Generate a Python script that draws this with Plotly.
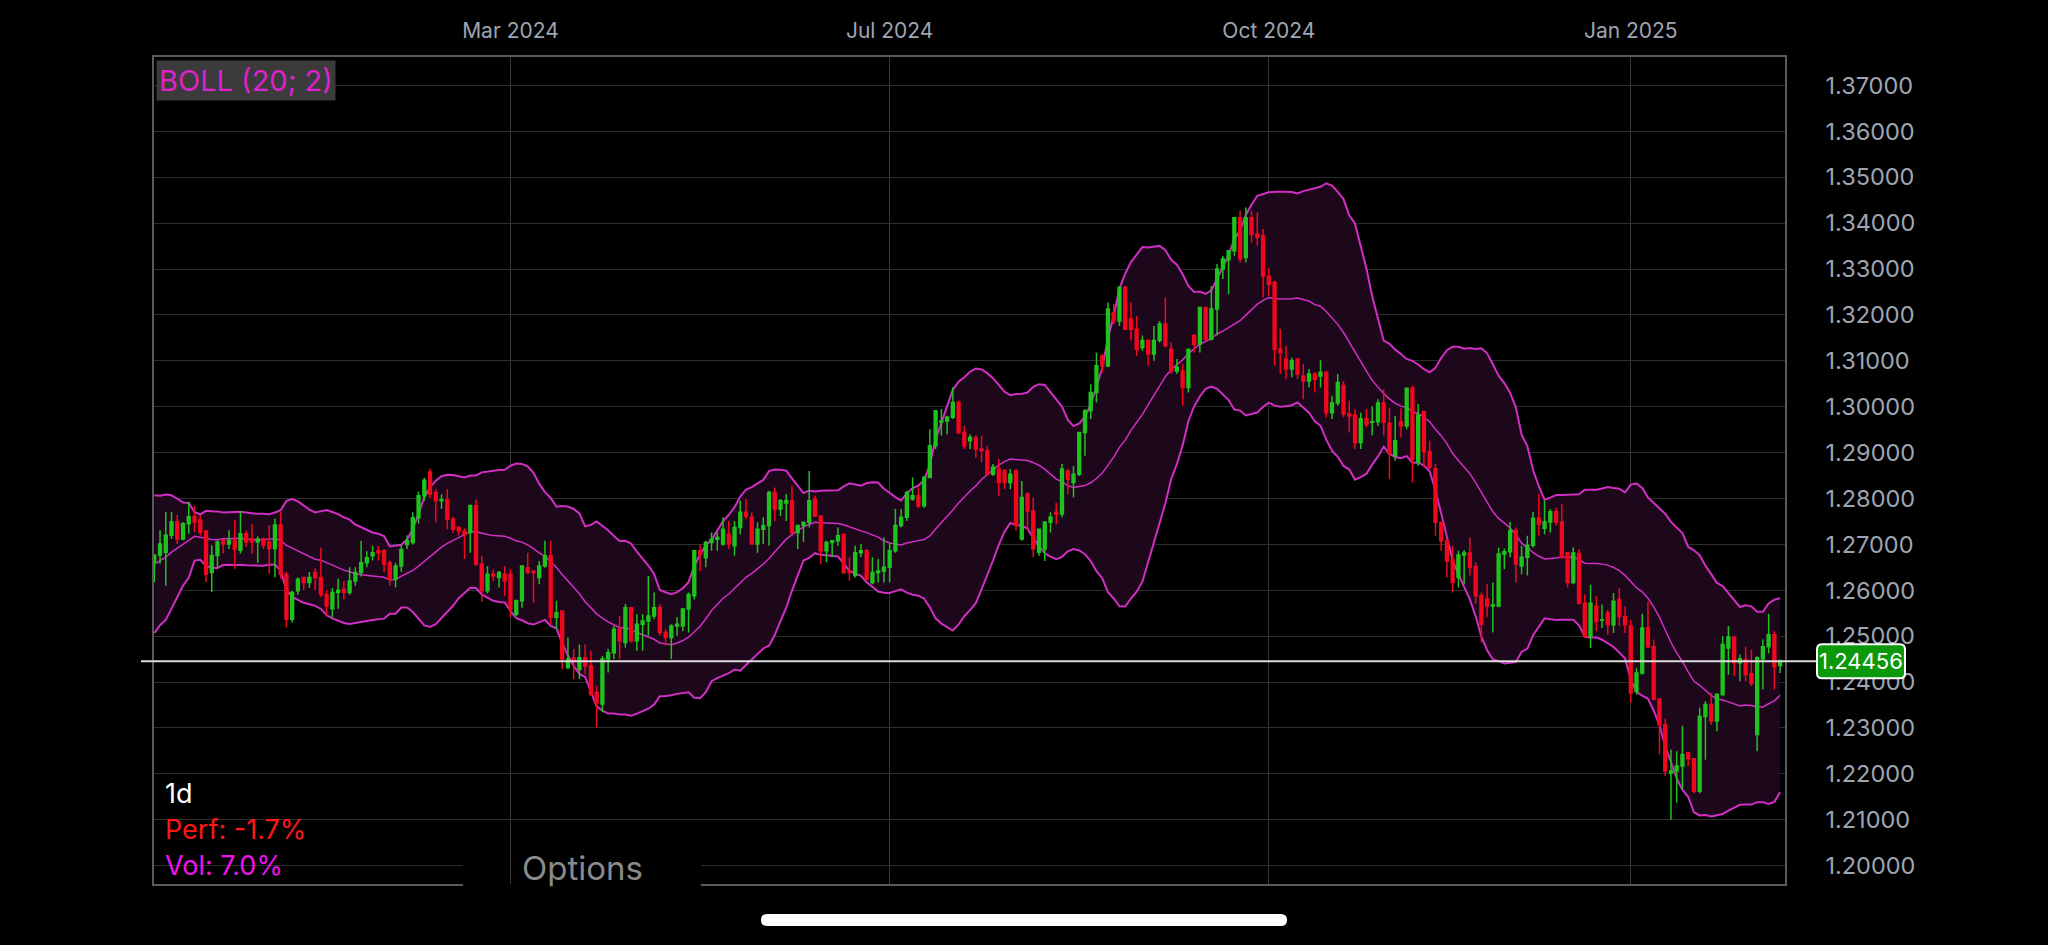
import plotly.graph_objects as go
import pandas as pd

# ---------------- data ----------------
opens = [
    1.2661, 1.2677, 1.2683, 1.2720, 1.2749, 1.2712, 1.2745, 1.2760, 1.2753, 1.2729,
    1.2639, 1.2676, 1.2709, 1.2701, 1.2709, 1.2687, 1.2723, 1.2712, 1.2705, 1.2712,
    1.2705, 1.2691, 1.2742, 1.2635, 1.2537, 1.2599, 1.2628, 1.2617, 1.2639, 1.2628,
    1.2591, 1.2560, 1.2595, 1.2602, 1.2595, 1.2620, 1.2639, 1.2660, 1.2675, 1.2686,
    1.2686, 1.2660, 1.2624, 1.2653, 1.2700, 1.2704, 1.2758, 1.2806, 1.2858,
    1.2813, 1.2795, 1.2798, 1.2755, 1.2737, 1.2729, 1.2726, 1.2784, 1.2657, 1.2599,
    1.2635, 1.2628, 1.2635, 1.2635, 1.2548, 1.2577, 1.2649, 1.2642, 1.2628, 1.2653,
    1.2675, 1.2541, 1.2555, 1.2432, 1.2452, 1.2428, 1.2453, 1.2435, 1.2377, 1.2352,
    1.2450, 1.2464, 1.2515, 1.2486, 1.2562, 1.2490, 1.2526, 1.2533, 1.2544, 1.2562,
    1.2508, 1.2497, 1.2522, 1.2522, 1.2559, 1.2588, 1.2686, 1.2671, 1.2704, 1.2711,
    1.2701, 1.2722, 1.2697, 1.2737, 1.2770, 1.2759, 1.2701, 1.2733, 1.2741, 1.2813,
    1.2777, 1.2790, 1.2795, 1.2726, 1.2741, 1.2748, 1.2799, 1.2762, 1.2686, 1.2704,
    1.2708, 1.2722, 1.2642, 1.2632, 1.2682, 1.2686, 1.2617, 1.2639, 1.2642, 1.2650,
    1.2686, 1.2741, 1.2759, 1.2799, 1.2806, 1.2784, 1.2846, 1.2915, 1.2966, 1.2969,
    1.2977, 1.3009, 1.2944, 1.2926, 1.2933, 1.2908, 1.2904, 1.2853, 1.2864,
    1.2860, 1.2835, 1.2860, 1.2712, 1.2810, 1.2773, 1.2683, 1.2690, 1.2748, 1.2770,
    1.2766, 1.2860, 1.2835, 1.2853, 1.2944, 1.2991, 1.3031, 1.3110, 1.3089, 1.3205,
    1.3187, 1.3260, 1.3191, 1.3169, 1.3129, 1.3144, 1.3115, 1.3144, 1.3180, 1.3125,
    1.3078, 1.3078, 1.3042, 1.3155, 1.3136, 1.3216, 1.3147, 1.3213, 1.3300, 1.3320,
    1.3340, 1.3412, 1.3325, 1.3412, 1.3376, 1.3372, 1.3284, 1.3271, 1.3125, 1.3104,
    1.3082,
    1.3104, 1.3067, 1.3056, 1.3071, 1.3067, 1.3075, 1.2987, 1.3008, 1.3046, 1.2984,
    1.2982, 1.2922, 1.2974, 1.2966, 1.2967, 1.3008, 1.2964, 1.2893, 1.2967, 1.2958,
    1.3040, 1.2879, 1.2989, 1.2902, 1.2865, 1.2748, 1.2708, 1.2666, 1.2628, 1.2677,
    1.2681, 1.2652, 1.2588, 1.2581, 1.2566, 1.2566, 1.2679, 1.2684, 1.2730, 1.2653,
    1.2672, 1.2698, 1.2757, 1.2735, 1.2749, 1.2771, 1.2749,
    1.2682, 1.2617, 1.2680, 1.2572, 1.2500, 1.2565, 1.2535, 1.2551, 1.2525, 1.2580,
    1.2543, 1.2522, 1.2380, 1.2420, 1.2518, 1.2477, 1.2363, 1.2307, 1.2202, 1.2206,
    1.2217, 1.2246, 1.2233, 1.2162, 1.2325, 1.2351, 1.2315, 1.2373, 1.2474, 1.2498,
    1.2442, 1.2449, 1.2418, 1.2286, 1.2450, 1.2477, 1.2503, 1.2436,
]
highs = [
    1.2677, 1.2731, 1.2771, 1.2771, 1.2764, 1.2749, 1.2793, 1.2785, 1.2764, 1.2730,
    1.2698, 1.2709, 1.2712, 1.2731, 1.2753, 1.2773, 1.2730, 1.2745, 1.2718, 1.2715,
    1.2742, 1.2756, 1.2771, 1.2640, 1.2599, 1.2628, 1.2628, 1.2640, 1.2648, 1.2693,
    1.2600, 1.2605, 1.2625, 1.2620, 1.2650, 1.2650, 1.2708, 1.2685, 1.2697, 1.2697,
    1.2690, 1.2665, 1.2660, 1.2700, 1.2720, 1.2770, 1.2815, 1.2845, 1.2865,
    1.2820, 1.2809, 1.2820, 1.2760, 1.2740, 1.2735, 1.2787, 1.2798, 1.2675, 1.2653,
    1.2646, 1.2642, 1.2653, 1.2646, 1.2580, 1.2653, 1.2682, 1.2642, 1.2664, 1.2708,
    1.2708, 1.2577, 1.2555, 1.2497, 1.2472, 1.2482, 1.2482, 1.2468, 1.2392, 1.2457,
    1.2472, 1.2522, 1.2544, 1.2570, 1.2562, 1.2548, 1.2548, 1.2631, 1.2595, 1.2570,
    1.2515, 1.2526, 1.2541, 1.2562, 1.2595, 1.2686, 1.2700, 1.2708, 1.2726, 1.2726,
    1.2759, 1.2751, 1.2751, 1.2795, 1.2799, 1.2770, 1.2748, 1.2759, 1.2817, 1.2824,
    1.2799, 1.2810, 1.2828, 1.2741, 1.2748, 1.2860, 1.2806, 1.2762, 1.2708, 1.2708,
    1.2737, 1.2722, 1.2672, 1.2697, 1.2701, 1.2690, 1.2672, 1.2668, 1.2715, 1.2704,
    1.2777, 1.2777, 1.2817, 1.2846, 1.2824, 1.2849, 1.2951, 1.2991, 1.2995, 1.2980,
    1.3042, 1.3013, 1.2958, 1.2940, 1.2937, 1.2937, 1.2915, 1.2875, 1.2886,
    1.2864, 1.2864, 1.2864, 1.2838, 1.2813, 1.2802, 1.2733, 1.2751, 1.2770, 1.2791,
    1.2875, 1.2864, 1.2871, 1.2944, 1.2995, 1.3049, 1.3118, 1.3115, 1.3227, 1.3224,
    1.3263, 1.3263, 1.3227, 1.3198, 1.3155, 1.3147, 1.3176, 1.3187, 1.3238, 1.3140,
    1.3104, 1.3093, 1.3125, 1.3158, 1.3216, 1.3216, 1.3263, 1.3311, 1.3329, 1.3340,
    1.3412, 1.3427, 1.3434, 1.3427, 1.3423, 1.3387, 1.3303, 1.3274, 1.3170, 1.3133,
    1.3107,
    1.3105, 1.3093, 1.3082, 1.3075, 1.3101, 1.3078, 1.3024, 1.3071, 1.3056, 1.3013,
    1.2995, 1.2987, 1.2995, 1.3001, 1.3016, 1.3038, 1.2998, 1.2980, 1.2996, 1.3040,
    1.3046, 1.3006, 1.2991, 1.2926, 1.2875, 1.2748, 1.2711, 1.2697, 1.2686, 1.2688,
    1.2715, 1.2661, 1.2595, 1.2613, 1.2617, 1.2693, 1.2691, 1.2749, 1.2737, 1.2697,
    1.2719, 1.2771, 1.2810, 1.2795, 1.2777, 1.2780, 1.2788,
    1.2682, 1.2693, 1.2690, 1.2591, 1.2612, 1.2587, 1.2569, 1.2558, 1.2594, 1.2605,
    1.2565, 1.2536, 1.2431, 1.2549, 1.2576, 1.2493, 1.2365, 1.2320, 1.2253, 1.2249,
    1.2305, 1.2247, 1.2233, 1.2344, 1.2358, 1.2376, 1.2376, 1.2500, 1.2522, 1.2498,
    1.2460, 1.2477, 1.2471, 1.2456, 1.2493, 1.2549, 1.2511, 1.2449,
]
lows = [
    1.2618, 1.2658, 1.2610, 1.2712, 1.2701, 1.2709, 1.2723, 1.2727, 1.2720, 1.2618,
    1.2596, 1.2650, 1.2680, 1.2690, 1.2647, 1.2680, 1.2695, 1.2680, 1.2660, 1.2690,
    1.2636, 1.2628, 1.2625, 1.2519, 1.2530, 1.2590, 1.2600, 1.2605, 1.2600, 1.2585,
    1.2545, 1.2540, 1.2560, 1.2580, 1.2590, 1.2610, 1.2630, 1.2650, 1.2665, 1.2665,
    1.2640, 1.2610, 1.2606, 1.2640, 1.2690, 1.2700, 1.2745, 1.2795, 1.2800,
    1.2748, 1.2777, 1.2733, 1.2725, 1.2720, 1.2668, 1.2682, 1.2653, 1.2575, 1.2593,
    1.2620, 1.2606, 1.2588, 1.2541, 1.2544, 1.2562, 1.2635, 1.2573, 1.2613, 1.2649,
    1.2526, 1.2515, 1.2428, 1.2428, 1.2406, 1.2406, 1.2417, 1.2370, 1.2301, 1.2334,
    1.2421, 1.2450, 1.2450, 1.2475, 1.2486, 1.2468, 1.2468, 1.2501, 1.2537, 1.2501,
    1.2479, 1.2450, 1.2501, 1.2511, 1.2508, 1.2580, 1.2642, 1.2650, 1.2686, 1.2686,
    1.2697, 1.2690, 1.2675, 1.2722, 1.2755, 1.2701, 1.2682, 1.2701, 1.2697, 1.2751,
    1.2762, 1.2751, 1.2722, 1.2690, 1.2705, 1.2737, 1.2759, 1.2657, 1.2661, 1.2672,
    1.2697, 1.2635, 1.2621, 1.2628, 1.2672, 1.2624, 1.2613, 1.2617, 1.2617, 1.2617,
    1.2682, 1.2737, 1.2751, 1.2795, 1.2780, 1.2780, 1.2846, 1.2908, 1.2937, 1.2940,
    1.2973, 1.2940, 1.2908, 1.2908, 1.2889, 1.2879, 1.2849, 1.2849, 1.2806,
    1.2820, 1.2820, 1.2730, 1.2708, 1.2733, 1.2672, 1.2675, 1.2664, 1.2726, 1.2744,
    1.2759, 1.2809, 1.2802, 1.2849, 1.2893, 1.2973, 1.3009, 1.3075, 1.3086, 1.3180,
    1.3176, 1.3169, 1.3144, 1.3111, 1.3122, 1.3089, 1.3100, 1.3140, 1.3129, 1.3071,
    1.3071, 1.3002, 1.3031, 1.3118, 1.3118, 1.3144, 1.3144, 1.3155, 1.3278, 1.3245,
    1.3329, 1.3314, 1.3314, 1.3358, 1.3351, 1.3238, 1.3242, 1.3089, 1.3071, 1.3060,
    1.3064,
    1.3060, 1.3016, 1.3042, 1.3031, 1.3042, 1.2977, 1.2973, 1.3002, 1.2977, 1.2944,
    1.2908, 1.2908, 1.2955, 1.2938, 1.2958, 1.2937, 1.2842, 1.2882, 1.2933, 1.2951,
    1.2835, 1.2871, 1.2868, 1.2864, 1.2719, 1.2686, 1.2628, 1.2595, 1.2606, 1.2613,
    1.2632, 1.2570, 1.2486, 1.2541, 1.2508, 1.2563, 1.2646, 1.2672, 1.2617, 1.2635,
    1.2632, 1.2693, 1.2719, 1.2722, 1.2726, 1.2741, 1.2668,
    1.2606, 1.2613, 1.2569, 1.2496, 1.2474, 1.2511, 1.2518, 1.2503, 1.2507, 1.2522,
    1.2507, 1.2355, 1.2373, 1.2416, 1.2474, 1.2362, 1.2242, 1.2195, 1.2100, 1.2137,
    1.2166, 1.2217, 1.2158, 1.2158, 1.2231, 1.2307, 1.2293, 1.2369, 1.2416, 1.2413,
    1.2402, 1.2402, 1.2391, 1.2249, 1.2384, 1.2463, 1.2384, 1.2420,
]
closes = [
    1.2677, 1.2701, 1.2720, 1.2749, 1.2712, 1.2745, 1.2760, 1.2749, 1.2727, 1.2635,
    1.2676, 1.2705, 1.2701, 1.2709, 1.2690, 1.2723, 1.2705, 1.2705, 1.2712, 1.2698,
    1.2691, 1.2742, 1.2635, 1.2537, 1.2595, 1.2624, 1.2617, 1.2628, 1.2628, 1.2591,
    1.2566, 1.2595, 1.2600, 1.2595, 1.2620, 1.2639, 1.2660, 1.2671, 1.2682, 1.2682,
    1.2657, 1.2624, 1.2653, 1.2689, 1.2708, 1.2758, 1.2806, 1.2840, 1.2809,
    1.2795, 1.2798, 1.2755, 1.2733, 1.2729, 1.2722, 1.2784, 1.2657, 1.2599, 1.2635,
    1.2631, 1.2639, 1.2620, 1.2559, 1.2577, 1.2653, 1.2639, 1.2639, 1.2653, 1.2675,
    1.2541, 1.2551, 1.2450, 1.2450, 1.2446, 1.2453, 1.2435, 1.2373, 1.2355, 1.2450,
    1.2464, 1.2515, 1.2490, 1.2562, 1.2490, 1.2526, 1.2533, 1.2544, 1.2562, 1.2508,
    1.2497, 1.2522, 1.2526, 1.2559, 1.2591, 1.2686, 1.2678, 1.2704, 1.2711, 1.2715,
    1.2733, 1.2701, 1.2737, 1.2770, 1.2762, 1.2701, 1.2733, 1.2741, 1.2813, 1.2777,
    1.2795, 1.2795, 1.2726, 1.2741, 1.2748, 1.2795, 1.2762, 1.2686, 1.2704, 1.2708,
    1.2719, 1.2639, 1.2639, 1.2682, 1.2686, 1.2624, 1.2639, 1.2642, 1.2650, 1.2686,
    1.2741, 1.2759, 1.2813, 1.2806, 1.2784, 1.2846, 1.2915, 1.2991, 1.2969, 1.2977,
    1.3009, 1.2944, 1.2915, 1.2933, 1.2908, 1.2904, 1.2853, 1.2868, 1.2835,
    1.2835, 1.2853, 1.2741, 1.2802, 1.2773, 1.2690, 1.2733, 1.2748, 1.2759, 1.2766,
    1.2864, 1.2842, 1.2853, 1.2944, 1.2991, 1.3031, 1.3089, 1.3089, 1.3213, 1.3187,
    1.3260, 1.3169, 1.3169, 1.3125, 1.3144, 1.3115, 1.3144, 1.3180, 1.3133, 1.3078,
    1.3086, 1.3042, 1.3125, 1.3136, 1.3216, 1.3147, 1.3213, 1.3300, 1.3322, 1.3340,
    1.3412, 1.3322, 1.3412, 1.3376, 1.3369, 1.3285, 1.3267, 1.3125, 1.3118, 1.3082,
    1.3100,
    1.3071, 1.3056, 1.3071, 1.3060, 1.3075, 1.2987, 1.3008, 1.3053, 1.2984, 1.2980,
    1.2922, 1.2974, 1.2962, 1.2967, 1.3008, 1.2966, 1.2897, 1.2926, 1.2958, 1.3040,
    1.2886, 1.2982, 1.2902, 1.2868, 1.2748, 1.2708, 1.2664, 1.2617, 1.2677, 1.2681,
    1.2650, 1.2588, 1.2526, 1.2566, 1.2568, 1.2679, 1.2684, 1.2730, 1.2657, 1.2672,
    1.2698, 1.2757, 1.2744, 1.2749, 1.2771, 1.2749, 1.2672,
    1.2617, 1.2681, 1.2572, 1.2500, 1.2572, 1.2532, 1.2536, 1.2525, 1.2576, 1.2543,
    1.2525, 1.2376, 1.2420, 1.2518, 1.2477, 1.2362, 1.2307, 1.2206, 1.2206, 1.2217,
    1.2242, 1.2233, 1.2162, 1.2325, 1.2351, 1.2315, 1.2373, 1.2482, 1.2498, 1.2442,
    1.2451, 1.2416, 1.2397, 1.2453, 1.2477, 1.2503, 1.2434, 1.24456,
]
# closes of the 19 sessions before the first visible candle (estimated from the band shape)
warmup_closes = [1.2540, 1.2575, 1.2530, 1.2550, 1.2555, 1.2600, 1.2570, 1.2760, 1.2690,
                 1.2730, 1.2710, 1.2660, 1.2700, 1.2700, 1.2705, 1.2730, 1.2730, 1.2725, 1.2700]

month_tick_index = [62, 128, 194, 257]
month_tick_text = ["Mar 2024", "Jul 2024", "Oct 2024", "Jan 2025"]
price_ticks = [1.20, 1.21, 1.22, 1.23, 1.24, 1.25, 1.26, 1.27, 1.28,
               1.29, 1.30, 1.31, 1.32, 1.33, 1.34, 1.35, 1.36, 1.37]
boll_period = 20
boll_mult = 2
interval_label = "1d"
vol_label = "Vol: 7.0%"

# ---------------- indicator ----------------
n = len(closes)
idx = list(range(n))
s = pd.Series(warmup_closes + closes)
mid = s.rolling(boll_period).mean()
sd = s.rolling(boll_period).std(ddof=0)
upper = (mid + boll_mult * sd).iloc[-n:].tolist()
lower = (mid - boll_mult * sd).iloc[-n:].tolist()
middle = mid.iloc[-n:].tolist()
last = closes[-1]
perf = (closes[-1] / opens[0] - 1) * 100

# ---------------- styling ----------------
W, H = 2048, 945
L, R, T, B = 154, 263, 57, 61
PW, PH = W - L - R, H - T - B


def px(x):
    return (x - L) / PW


def py(y):
    return (H - B - y) / PH


GREEN = "#1fc21f"
RED = "#f0081e"
BAND = "#d12fc4"
FILL = "#1d071b"
GRID_V = "#383838"
FONT = "Inter"
XRANGE = [-0.05, n - 1 + 0.85]
YRANGE = [1.1960, 1.3762]
Y_PER_PX = (YRANGE[1] - YRANGE[0]) / PH

fig = go.Figure()
fig.add_trace(go.Scatter(x=idx, y=lower, mode="lines", line=dict(color=BAND, width=2),
                         hoverinfo="skip", showlegend=False))
fig.add_trace(go.Scatter(x=idx, y=upper, mode="lines", line=dict(color=BAND, width=2),
                         fill="tonexty", fillcolor=FILL, hoverinfo="skip", showlegend=False))
fig.add_trace(go.Scatter(x=idx, y=middle, mode="lines", line=dict(color=BAND, width=1.5),
                         hoverinfo="skip", showlegend=False))
# candles live on an overlaying subplot so they are drawn above the band fill
fig.add_trace(go.Candlestick(
    x=idx, open=opens, high=highs, low=lows, close=closes, xaxis="x2", yaxis="y2",
    increasing=dict(line=dict(color=GREEN, width=1.5), fillcolor=GREEN),
    decreasing=dict(line=dict(color=RED, width=1.5), fillcolor=RED),
    whiskerwidth=0, showlegend=False,
))

fig.update_layout(
    width=W, height=H,
    margin=dict(l=L, r=R, t=T, b=B, pad=0),
    paper_bgcolor="black", plot_bgcolor="black",
    font=dict(family=FONT, color="#9ea5b2"),
    showlegend=False,
    xaxis=dict(
        range=XRANGE, side="top", rangeslider=dict(visible=False),
        tickmode="array", tickvals=month_tick_index, ticktext=month_tick_text,
        tickfont=dict(size=21, color="#9ea5b2"), ticks="", ticklabelstandoff=9,
        showgrid=True, gridcolor=GRID_V, gridwidth=1, zeroline=False,
        showline=True, linecolor="#5a5a5a", linewidth=1.5, mirror=True,
    ),
    yaxis=dict(
        range=YRANGE, side="right",
        tickmode="array", tickvals=price_ticks, tickformat=".5f",
        tickfont=dict(size=23.5, color="#9ea5b2"), ticks="", ticklabelstandoff=34,
        showgrid=True, gridcolor="#2e2e2e", gridwidth=1, zeroline=False,
        showline=True, linecolor="#5a5a5a", linewidth=1.5, mirror=True,
    ),
    xaxis2=dict(range=XRANGE, overlaying="x", visible=False, rangeslider=dict(visible=False)),
    yaxis2=dict(range=YRANGE, overlaying="y", visible=False),
)

# last-price line
fig.add_shape(type="line", xref="paper", yref="y", x0=px(141), x1=px(1817), y0=last, y1=last,
              line=dict(color="#dcdcdc", width=2), layer="above")
# rounded green price tag
bx0, bx1 = px(1817), px(1905)
by0, by1 = last - 17 * Y_PER_PX, last + 17 * Y_PER_PX
rx, ry = px(1822) - px(1817), 5 * Y_PER_PX
tag = (f"M {bx0 + rx},{by1} L {bx1 - rx},{by1} Q {bx1},{by1} {bx1},{by1 - ry} L {bx1},{by0 + ry} "
       f"Q {bx1},{by0} {bx1 - rx},{by0} L {bx0 + rx},{by0} Q {bx0},{by0} {bx0},{by0 + ry} "
       f"L {bx0},{by1 - ry} Q {bx0},{by1} {bx0 + rx},{by1} Z")
fig.add_shape(type="path", xref="paper", yref="y", path=tag, fillcolor="#0b980b",
              line=dict(color="white", width=2), layer="above")
fig.add_annotation(xref="paper", yref="y", x=(bx0 + bx1) / 2, y=last, text=f"{last:.5f}",
                   showarrow=False, xanchor="center", yanchor="middle",
                   font=dict(family=FONT, size=22, color="white"))

# indicator label
fig.add_annotation(xref="paper", yref="paper", x=px(156), y=py(60), xanchor="left", yanchor="top",
                   text=f"BOLL ({boll_period}; {boll_mult})", showarrow=False,
                   font=dict(family=FONT, size=29, color="#de22cc"),
                   bgcolor="#3b3b3b", borderpad=2)

# bottom-left info
fig.add_annotation(xref="paper", yref="paper", x=px(163), y=py(793), xanchor="left", yanchor="middle",
                   text=interval_label, showarrow=False, font=dict(family=FONT, size=27, color="white"))
fig.add_annotation(xref="paper", yref="paper", x=px(163), y=py(829), xanchor="left", yanchor="middle",
                   text=f"Perf: {perf:.1f}%", showarrow=False, font=dict(family=FONT, size=27, color="#ff1616"))
fig.add_annotation(xref="paper", yref="paper", x=px(163), y=py(865), xanchor="left", yanchor="middle",
                   text=vol_label, showarrow=False, font=dict(family=FONT, size=27, color="#ee12ee"))

# Options button (hides the horizontal rules, the month gridline stays visible)
fig.add_shape(type="rect", xref="paper", yref="paper", x0=px(463), x1=px(701), y0=py(892), y1=py(846),
              fillcolor="black", line=dict(width=0), layer="above")
fig.add_shape(type="line", xref="x", yref="paper", x0=month_tick_index[0], x1=month_tick_index[0],
              y0=0, y1=py(846), line=dict(color=GRID_V, width=1), layer="above")
fig.add_annotation(xref="paper", yref="paper", x=px(582), y=py(868), xanchor="center", yanchor="middle",
                   text="Options", showarrow=False, font=dict(family=FONT, size=33, color="#8a8a8a"))

# home indicator
x0, x1, y0, y1 = px(761), px(1287), py(926), py(914)
hx = px(767) - px(761)
ym = (y0 + y1) / 2
path = (f"M {x0 + hx},{y1} L {x1 - hx},{y1} Q {x1},{y1} {x1},{ym} Q {x1},{y0} {x1 - hx},{y0} "
        f"L {x0 + hx},{y0} Q {x0},{y0} {x0},{ym} Q {x0},{y1} {x0 + hx},{y1} Z")
fig.add_shape(type="path", xref="paper", yref="paper", path=path, fillcolor="white",
              line=dict(width=0), layer="above")

fig.write_html("out.html")
